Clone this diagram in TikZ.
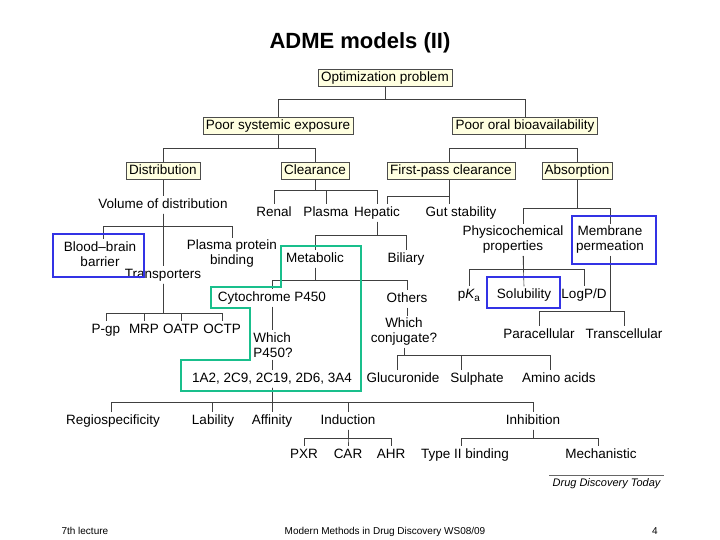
\documentclass[tikz,border=0pt]{standalone}
\usepackage{fontspec}
\setmainfont{Liberation Sans}
\usetikzlibrary{positioning}
\definecolor{mbox}{rgb}{1, 1, 0.88}
\definecolor{mblue}{rgb}{0.2, 0.2, 0.9}
\definecolor{mgreen}{rgb}{0.1, 0.75, 0.55}
\tikzset{box/.style = {draw=black!70, fill=mbox, inner xsep=3pt, inner ysep=2pt, text height=10pt, text depth=3pt},
         txt/.style = {inner sep=2pt, text height=10pt, text depth=3pt},
         txt2/.style = {inner sep=2pt, align=center},
         foot/.style = {font=\fontsize{10}{12}\selectfont, text height=8pt, text depth=2pt},
         tree/.style = {black!75, semithick}}
\newcommand{\branch}[3]{\foreach \c in {#3} {\draw [tree] (#1.south) -- ++(0, #2) -| (\c.north);}}

\begin{document}
\begin{tikzpicture}[x=1pt, y=-1pt, font=\fontsize{13.5}{15}\selectfont]
    \useasboundingbox (0, 0) rectangle (720, 540);

    \node [font=\fontsize{22}{24}\selectfont\bfseries] (title) at (360, 43) {ADME models (II)};

    % top levels
    \node [box] (opt) at (385, 78) {Optimization problem};
    \node [box] (pse) at (278, 126) {Poor systemic exposure};
    \node [box] (pob) at (525, 126) {Poor oral bioavailability};
    \node [box] (dist) at (163, 171) {Distribution};
    \node [box] (clear) at (315, 171) {Clearance};
    \node [box] (fpc) at (451, 171) {First-pass clearance};
    \node [box] (abs) at (577, 171) {Absorption};
    \branch{opt}{13}{pse, pob}
    \draw [tree] (pse.south) -- ++(0, 14) -| (dist.north);
    \draw [tree] (pse.south) -- ++(0, 14) -| (clear.north);
    \draw [tree] (pob.south) -- ++(0, 14) -| ([xshift=-2pt]fpc.north);
    \draw [tree] (pob.south) -- ++(0, 14) -| (abs.north);

    % distribution
    \node [txt] (vol) at (163, 205) {Volume of distribution};
    \node [txt2] (bbb) at (100, 254) {Blood--brain\\barrier};
    \node [txt2] (ppb) at (232, 254) {Plasma protein\\binding};
    \node [txt] (trans) at (163, 275) {Transporters};
    \node [txt] (pgp) at (106, 330) {P-gp};
    \node [txt] (mrp) at (144, 330) {MRP};
    \node [txt] (oatp) at (181, 330) {OATP};
    \node [txt] (octp) at (222, 330) {OCTP};
    \draw [tree] (dist.south) -- (vol.north);
    \draw [tree] (vol.south) -- ++(0, 13) -| ([xshift=3pt]bbb.north);
    \draw [tree] (vol.south) -- ++(0, 13) -| (ppb.north);
    \draw [tree] (vol.south) -- (trans.north);
    \branch{trans}{30}{pgp, mrp, oatp, octp}

    % clearance
    \node [txt] (renal) at (274, 213) {Renal};
    \node [txt] (plasma) at (326, 213) {Plasma};
    \node [txt] (hep) at (377, 213) {Hepatic};
    \node [txt] (gut) at (461, 213) {Gut stability};
    \branch{clear}{11}{renal, plasma}
    \draw [tree] (clear.south) -- ++(0, 11) -| (hep.north);
    \draw [tree] ([xshift=-2pt]fpc.south) -- ++(0, 17) -| ([xshift=10pt]hep.north);
    \draw [tree] ([xshift=-2pt]fpc.south) -- ([xshift=-2pt]fpc.south |- gut.north);

    \node [txt] (met) at (315, 259) {Metabolic};
    \node [txt] (bil) at (406, 259) {Biliary};
    \node [txt] (cyto) at (272, 298) {Cytochrome P450};
    \node [txt] (oth) at (407, 299) {Others};
    \node [txt2, align=left] (whp) at (273, 345) {Which\\P450?};
    \node [txt] (cyp) at (272, 379) {1A2, 2C9, 2C19, 2D6, 3A4};
    \node [txt2] (conj) at (404, 332) {Which\\conjugate?};
    \node [txt] (glu) at (403, 379) {Glucuronide};
    \node [txt] (sul) at (477, 379) {Sulphate};
    \node [txt] (amino) at (559, 379) {Amino acids};
    \draw [tree] (hep.south) -- ++(0, 14) -| (met.north);
    \draw [tree] (hep.south) -- ++(0, 14) -| (bil.north);
    \draw [tree] (met.south) -- ++(0, 13) -| (cyto.north);
    \draw [tree] (met.south) -- ++(0, 13) -| (oth.north);
    \draw [tree] (cyto.south) -- (cyto.south |- whp.north);
    \draw [tree] (whp.south -| cyto.south) -- (cyp.north);
    \draw [tree] (oth.south) -- (conj.north -| oth.south);
    \draw [tree] (conj.south) -- ++(0, 7) -| ([xshift=-6pt]glu.north);
    \draw [tree] (conj.south) -- ++(0, 7) -| ([xshift=-16pt]sul.north);
    \draw [tree] (conj.south) -- ++(0, 7) -| ([xshift=-9pt]amino.north);

    % absorption
    \node [txt2] (phys) at (513, 240) {Physicochemical\\properties};
    \node [txt2] (mem) at (610, 240) {Membrane\\permeation};
    \node [txt] (pka) at (469, 295) {p{\itshape K}\raisebox{-3pt}{\fontsize{10}{10}\selectfont a}};
    \node [txt] (sol) at (524, 295) {Solubility};
    \node [txt] (logp) at (584, 295) {LogP/D};
    \node [txt] (para) at (539, 335) {Paracellular};
    \node [txt] (trc) at (624, 335) {Transcellular};
    \draw [tree] (abs.south) -- ++(0, 29) -| ([xshift=10pt]phys.north);
    \draw [tree] (abs.south) -- ++(0, 29) -| (mem.north);
    \draw [tree] ([xshift=10pt]phys.south) -- ++(0, 13) -| (pka.north);
    \draw [tree] ([xshift=10pt]phys.south) -- ++(0, 13) -| (logp.north);
    \draw [tree] ([xshift=10pt]phys.south) -- (sol.north);
    \branch{mem}{55}{para, trc}

    % bottom row
    \node [txt] (regio) at (113, 421) {Regiospecificity};
    \node [txt] (lab) at (213, 421) {Lability};
    \node [txt] (aff) at (272, 421) {Affinity};
    \node [txt] (ind) at (348, 421) {Induction};
    \node [txt] (inh) at (533, 421) {Inhibition};
    \node [txt] (pxr) at (304, 455) {PXR};
    \node [txt] (car) at (348, 455) {CAR};
    \node [txt] (ahr) at (391, 455) {AHR};
    \node [txt] (t2b) at (465, 455) {Type II binding};
    \node [txt] (mech) at (601, 455) {Mechanistic};
    \draw [tree] (cyp.south) -- ++(0, 15) -| ([xshift=-2pt]regio.north);
    \draw [tree] (cyp.south) -- ++(0, 15) -| ([xshift=-1pt]lab.north);
    \draw [tree] (cyp.south) -- (aff.north);
    \draw [tree] (cyp.south) -- ++(0, 15) -| (ind.north);
    \draw [tree] (cyp.south) -- ++(0, 15) -| (inh.north);
    \branch{ind}{9}{pxr, car, ahr}
    \draw [tree] (inh.south) -- ++(0, 9) -| ([xshift=-4pt]t2b.north);
    \draw [tree] (inh.south) -- ++(0, 9) -| ([xshift=-3pt]mech.north);

    % highlights
    \draw [mblue, line width=2.5pt] (53, 234) rectangle (144, 277);
    \draw [mblue, line width=2.5pt] (572, 216) rectangle (656, 264);
    \draw [mblue, line width=2.5pt] (487, 277) rectangle (560, 308);
    \draw [mgreen, line width=2.5pt] (281, 246) -- (361, 246) -- (361, 391) -- (181, 391)
        -- (181, 360) -- (250, 360) -- (250, 308) -- (211, 308) -- (211, 287) -- (281, 287) -- cycle;

    % source and footer
    \node [font=\fontsize{11}{12}\selectfont\itshape, anchor=east] (src) at (664, 484) {Drug Discovery Today};
    \draw [black!60] (src.north west) -- (src.north east);
    \node [foot, anchor=west] (lect) at (58, 531) {7th lecture};
    \node [foot] (course) at (385, 531) {Modern Methods in Drug Discovery WS08/09};
    \node [foot] (page) at (655, 531) {4};
\end{tikzpicture}
\end{document}
